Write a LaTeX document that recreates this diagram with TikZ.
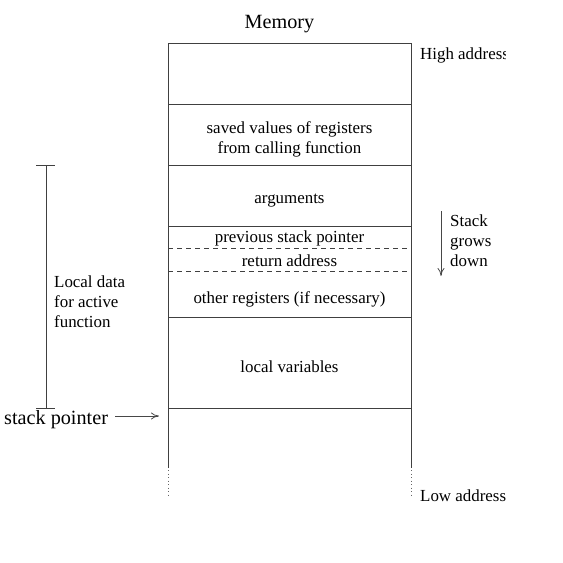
\documentclass[tikz,border=0pt]{standalone}
\usepackage{fontspec}
\setmainfont{Liberation Serif}
\usetikzlibrary{arrows.meta}
\begin{document}
\begin{tikzpicture}[x=1pt,y=-1pt,
  frame/.style={draw=black!75,line width=0.8pt},
  sep/.style={draw=black!75,line width=0.8pt,dash pattern=on 5pt off 4pt},
  dots/.style={draw=black!60,line width=0.8pt,dash pattern=on 1pt off 2.5pt},
  cell/.style={font=\fontsize{16.9}{20}\selectfont,align=center,inner sep=0pt},
  lbl/.style={font=\fontsize{16.9}{19.8}\selectfont,align=left,inner sep=0pt,anchor=west},
  big/.style={font=\fontsize{20.2}{24}\selectfont,inner sep=0pt},
  arr/.style={draw=black!72,line width=0.8pt,-{To[length=8pt,width=7pt]}}]
\useasboundingbox (0,0) rectangle (563,563);
% frame
\coordinate (tl) at (168,43);
\coordinate (tr) at (411,43);
\draw[frame] (168,468) -- (tl) -- (tr) -- (411,468);
\foreach \y in {104,165,226,317,408} \draw[frame] (168,\y) -- (411,\y);
\draw[sep] (168,248) -- (411,248);
\draw[sep] (168,271) -- (411,271);
\draw[dots] (168,470) -- (168,498);
\draw[dots] (411,470) -- (411,498);
% texts
\node[big] (mem) at (279.5,24) {Memory};
\begin{scope}
\clip (415,30) rectangle (505,70);
\node[lbl] (high) at (420,55) {High address};
\end{scope}
\node[lbl] (low) at (420,495.5) {Low address};
\node[cell] (saved) at (289.5,139) {saved values of registers\\from calling function};
\node[cell] (args) at (289.5,201) {arguments};
\node[cell] (prev) at (289.5,238.5) {previous stack pointer};
\node[cell] (ret) at (289.5,260.5) {return address};
\node[cell] (other) at (289.5,299) {other registers (if necessary)};
\node[cell] (locv) at (289.5,367) {local variables};
% stack grows down
\coordinate (g1) at (441,211);
\coordinate (g2) at (441,276);
\draw[arr] (g1) -- (g2);
\node[lbl,anchor=north west] (grow) at (450,214.5) {Stack\\grows\\down};
% local data bracket
\coordinate (b1) at (46,165);
\coordinate (b2) at (46,408);
\draw[frame] (b1) -- (b2);
\draw[frame] (36,165) -- (55,165);
\draw[frame] (36,408) -- (55,408);
\node[lbl,anchor=north west] (local) at (54,275.5) {Local data\\for active\\function};
% stack pointer
\node[big,anchor=west] (sp) at (4,420) {stack pointer};
\coordinate (spend) at (159,416);
\draw[arr] (115,416) -- (spend);
\end{tikzpicture}
\end{document}
